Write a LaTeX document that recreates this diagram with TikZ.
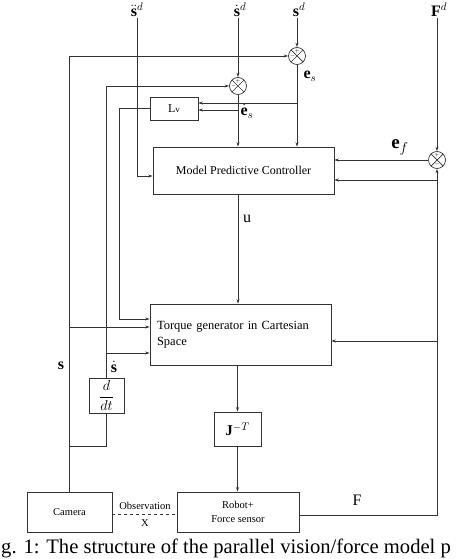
\documentclass[tikz,border=0pt]{standalone}
\usepackage{amsmath,amssymb}
\usepackage{fontspec}
\setmainfont{Liberation Serif}
\usetikzlibrary{arrows.meta}

\tikzset{
  blk/.style={draw=black!80, line width=0.7pt, rectangle, inner sep=0pt},
  wire/.style={draw=black!80, line width=0.7pt},
  sumnode/.style={draw=black!80, line width=0.7pt, circle, minimum size=17pt, inner sep=0pt,
    path picture={\draw[black!80, line width=0.7pt] (path picture bounding box.south west) -- (path picture bounding box.north east)
      (path picture bounding box.north west) -- (path picture bounding box.south east);}},
  sgn/.style={font=\fontsize{5}{5}\selectfont, inner sep=0pt},
  sig/.style={font=\fontsize{16}{16}\selectfont, inner sep=1pt},
}

\begin{document}
\begin{tikzpicture}[x=1pt, y=-1pt, >={Stealth[length=4.5pt,width=3pt]}]
    \useasboundingbox (0,0) rectangle (474,559);

    % inputs
    \node[sig] (sddl) at (137,10) {$\ddot{\mathbf{s}}^d$};
    \node[sig] (sdl) at (240,10) {$\dot{\mathbf{s}}^d$};
    \node[sig] (sl) at (299,10) {$\mathbf{s}^d$};
    \node[sig] (fdl) at (439,10) {$\mathbf{F}^d$};

    % summing points
    \node[sumnode] (sum1) at (297,56) {};
    \node[sumnode] (sum2) at (238,86) {};
    \node[sumnode] (sum3) at (437,160) {};
    \node[sgn] (sum1p) at ([yshift=4.5pt]sum1.center) {$+$};
    \node[sgn] (sum1m) at ([xshift=-4.5pt]sum1.center) {$-$};
    \node[sgn] (sum2p) at ([yshift=4.5pt]sum2.center) {$+$};
    \node[sgn] (sum2m) at ([xshift=-4.5pt]sum2.center) {$-$};
    \node[sgn] (sum3p) at ([yshift=4.5pt]sum3.center) {$+$};
    \node[sgn] (sum3m) at ([yshift=-4.5pt]sum3.center) {$-$};

    % blocks
    \node[blk, minimum width=48pt, minimum height=23pt, font=\fontsize{12}{12}\selectfont] (lv) at (174,108.5) {L{\fontsize{9}{9}\selectfont v}};
    \node[blk, minimum width=181pt, minimum height=47pt, font=\fontsize{12}{14}\selectfont] (mpc) at (243.5,170.5) {Model Predictive Controller};
    \node[blk, minimum width=181pt, minimum height=61pt, text width=167pt, inner xsep=7pt, align=left,
      font=\fontsize{12.5}{16}\selectfont] (tg) at (240.5,334.5) {Torque generator in Cartesian\\Space\\[6pt]};
    \node[blk, minimum width=35pt, minimum height=35pt, font=\fontsize{14}{14}\selectfont] (ddt) at (106.5,395.5) {$\dfrac{d}{dt}$};
    \node[blk, minimum width=47pt, minimum height=34pt, font=\fontsize{15}{15}\selectfont] (jt) at (237.5,429) {$\mathbf{J}^{-T}$};
    \node[blk, minimum width=85pt, minimum height=40pt, font=\fontsize{10.5}{12}\selectfont] (cam) at (69.5,512) {Camera};
    \node[blk, minimum width=122pt, minimum height=40pt, align=center, font=\fontsize{10.5}{14}\selectfont] (robot) at (238,512) {Robot+\\Force sensor};

    % bus points
    \coordinate (lbus) at (119,108.5);
    \coordinate (tap) at (69,446);

    % references and errors
    \draw[wire, ->] (sddl.south) |- ([yshift=-5.5pt]mpc.west);
    \draw[wire, ->] (sdl.south -| sum2.north) -- (sum2.north);
    \draw[wire, ->] (sl.south -| sum1.north) -- (sum1.north);
    \draw[wire, ->] (fdl.south -| sum3.north) -- (sum3.north);
    \draw[wire, ->] (sum1.south) -- (sum1.south |- mpc.north);
    \draw[wire, ->] ([yshift=5.5pt]lv.east -| sum1.south) -- ([yshift=5.5pt]lv.east);
    \draw[wire, ->] (sum2.south) -- (sum2.south |- mpc.north);
    \draw[wire, ->] ([yshift=-1.5pt]lv.east -| sum2.south) -- ([yshift=-1.5pt]lv.east);
    \draw[wire, ->] (lv.west) -- (lbus) |- ([yshift=15.5pt]tg.west);
    \draw[wire, ->] (sum3.west) -- (sum3.west -| mpc.east);

    % feedback of s
    \draw[wire, ->] (cam.north -| tap) |- (sum1.west);
    \draw[wire, ->] ([yshift=7.5pt]tg.west -| tap) -- ([yshift=7.5pt]tg.west);
    \draw[wire] (tap) -| (ddt.south);
    \draw[wire, ->] (ddt.north) |- (sum2.west);
    \draw[wire, ->] ([yshift=-18.5pt]tg.west -| ddt.north) -- ([yshift=-18.5pt]tg.west);

    % forward path
    \draw[wire, ->] (sum2.south |- mpc.south) -- (sum2.south |- tg.north);
    \draw[wire, ->] (jt.north |- tg.south) -- (jt.north);
    \draw[wire, ->] (jt.south) -- (jt.south |- robot.north);
    \draw[wire, dashed] ([yshift=-2pt]cam.east) -- ([yshift=-2pt]robot.west);

    % force feedback
    \draw[wire, ->] ([yshift=-3pt]robot.east) -| (sum3.south);
    \draw[wire, ->] ([yshift=-9.5pt]mpc.east -| sum3.south) -- ([yshift=-9.5pt]mpc.east);
    \draw[wire, ->] ([yshift=-6.5pt]tg.east -| sum3.south) -- ([yshift=-6.5pt]tg.east);

    % labels
    \node[sig] (esl) at (310,76) {$\mathbf{e}_s$};
    \node[sig] (desl) at (247,111) {$\dot{\mathbf{e}}_s$};
    \node[font=\fontsize{19}{19}\selectfont] (efl) at (400,147) {$\mathbf{e}_f$};
    \node[font=\fontsize{16}{16}\selectfont] (ul) at (247,219) {u};
    \node[sig] (sfl) at (61,366) {$\mathbf{s}$};
    \node[sig] (dsfl) at (114,367) {$\dot{\mathbf{s}}$};
    \node[font=\fontsize{16}{16}\selectfont] (fl) at (357,500) {F};
    \node[font=\fontsize{10.5}{12}\selectfont] (obsl) at (145,506) {Observation};
    \node[font=\fontsize{10.5}{12}\selectfont] (xl) at (145,523) {X};

    % caption
    \node[anchor=base west, inner sep=0pt, font=\fontsize{20.6}{22}\selectfont] (cap) at (1,553.5) {g. 1: The structure of the parallel vision/force model p};
\end{tikzpicture}
\end{document}
